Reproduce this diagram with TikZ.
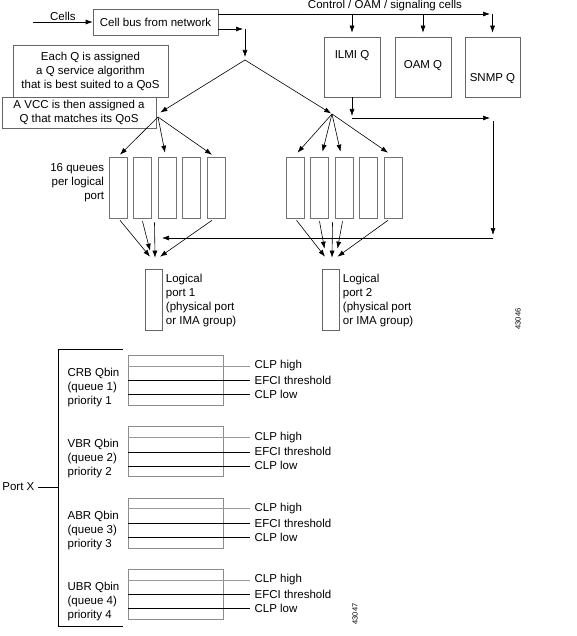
\documentclass[tikz,border=0pt]{standalone}
\usepackage{fontspec}
\setmainfont{Liberation Sans}
\usetikzlibrary{arrows.meta,calc}

\begin{document}
\begin{tikzpicture}[x=1pt,y=-1pt,line width=0.6pt,
    >={Latex[length=7pt,width=5pt]},
    every node/.style={font=\fontsize{11.5}{14}\selectfont},
    box/.style={draw=black!60,inner sep=0pt},
    qrect/.style={draw=black!55,minimum width=18pt,minimum height=61pt,inner sep=0pt},
    qbin/.style={draw=black!45,minimum width=95pt,minimum height=50pt,inner sep=0pt},
    figno/.style={font=\fontsize{7.5}{8}\selectfont,rotate=90}]
\useasboundingbox (0,0) rectangle (576,636);

% cell bus and control cells
\node[box,minimum width=125pt,minimum height=26pt] (bus) at (155.5,22) {Cell bus from network};
\coordinate (cells) at (33,22);
\draw[->] (cells) -- (bus.west) node[midway,above,yshift=-2pt] (cellstxt) {Cells};
\coordinate (ctrl) at (490,14);
\draw[->] (bus.east |- ctrl) -- (ctrl);
\node (ctrltxt) at (385,6) {Control / OAM / signaling cells};

% control queues
\node[box,minimum width=56pt,minimum height=60pt] (ilmi) at (352,67) {};
\node[box,minimum width=56pt,minimum height=60pt] (oam) at (423,67) {};
\node[box,minimum width=55pt,minimum height=60pt] (snmp) at (492.5,67) {};
\node (ilmitxt) at (352,56) {ILMI Q};
\node (oamtxt) at (423,66) {OAM Q};
\node (snmptxt) at (492.5,79) {SNMP Q};
\foreach \q in {ilmi,oam,snmp}
    \draw[->,shorten >=4pt] (\q.north |- ctrl) -- (\q.north);

% split to the two logical ports
\coordinate (bustap) at (243,29);
\coordinate (split) at (245,60);
\draw[->] (bus.east |- bustap) -- (bustap);
\draw[->,shorten >=3pt] (split |- bustap) -- (split);

% notes
\node[box,minimum width=155pt,minimum height=52pt,align=center] (eachq) at (90.5,71)
    {Each Q is assigned\\a Q service algorithm\\that is best suited to a QoS};
\node[box,fill=white,minimum width=154pt,minimum height=31pt,align=center] (vcc) at (79,112.5)
    {A VCC is then assigned a\\Q that matches its QoS};

\coordinate (lhub) at (158,117);
\coordinate (rhub) at (332,114);
\draw[->] (split) -- ([xshift=4pt]vcc.east);
\draw[->,shorten >=1pt] (split) -- (rhub);

% 16 queues per port
\foreach \i in {1,...,5} {
    \node[qrect] (lq\i) at ({118+24.5*(\i-1)},187.5) {};
    \node[qrect] (rq\i) at ({295+24.5*(\i-1)},187.5) {};
}
\node[anchor=east,align=right] (lqtxt) at ($(lq1.west)+(-1,-5)$) {16 queues\\per logical\\port};

% fan out
\draw[->] (lhub) -- ($(lq1.north)+(2,-2)$);
\draw[->] (lhub) -- ($(lq3.north)+(-2,-4)$);
\draw[->] (lhub) -- ($(lq5.north)+(-4,-2)$);
\draw[->] (rhub) -- ($(rq1.north)+(2.5,-4)$);
\draw[->] (rhub) -- ($(rq2.north)+(3,-5)$);
\draw[->] (rhub) -- ($(rq3.north)+(-3.5,-5)$);
\draw[->] (rhub) -- ($(rq5.north)+(-5,-4)$);

% logical ports
\node[box,minimum width=17pt,minimum height=61pt] (lport) at (153.5,299.5) {};
\node[box,minimum width=17pt,minimum height=61pt] (rport) at (330.5,299.5) {};
\node[anchor=west,align=left] (lporttxt) at ($(lport.east)+(0,1.5)$)
    {Logical\\port 1\\(physical port\\or IMA group)};
\node[anchor=west,align=left] (rporttxt) at ($(rport.east)+(0,1.5)$)
    {Logical\\port 2\\(physical port\\or IMA group)};

% fan in
\draw[->] ($(lq1.south)+(2,2)$) -- ($(lport.north)+(-3.5,-12)$);
\draw[->] ($(lq2.south)+(0,3)$) -- ($(lport.north)+(-3.5,-18)$);
\draw[->] ($(lq2.south)+(12,4)$) -- ($(lport.north)+(1.5,-11)$);
\draw[->] ($(lq5.south)+(-4,2)$) -- ($(lport.north)+(6.5,-12)$);
\draw[->] ($(rq1.south)+(1.5,2)$) -- ($(rport.north)+(-5.5,-12)$);
\draw[->] ($(rq2.south)+(0,3)$) -- ($(rport.north)+(-6,-20)$);
\draw[->] ($(rq2.south)+(13,4)$) -- ($(rport.north)+(1.5,-11)$);
\draw[->] ($(rq3.south)+(-1.5,3)$) -- ($(rport.north)+(7,-20)$);
\draw[->] ($(rq5.south)+(-5,2)$) -- ($(rport.north)+(7,-12)$);

% control cells return path
\coordinate (ret) at (493,118);
\coordinate (retdown) at (493,235);
\coordinate (retleft) at (162,238);
\draw[->,shorten >=2pt] (ilmi.south) -- (ilmi.south |- ret);
\draw[->,shorten >=3pt] (ilmi.south |- ret) -- (ret);
\draw[->] ([yshift=-3pt]ret) -- (retdown);
\draw[->] (retdown |- retleft) -- (retleft);

\node[figno] (fig1) at (518,319) {43046};

% Qbins of port X
\node[anchor=east] (portx) at (38,487) {Port X};
\coordinate (bracket) at (58,487);
\coordinate (brtop) at (123,349);
\coordinate (brbot) at (123,626);
\draw (portx.east) -- (bracket);
\draw (brtop) -| (bracket);
\draw (brbot) -| (bracket);

\foreach \n [count=\i] in {CRB,VBR,ABR,UBR} {
    \pgfmathsetmacro\qtop{355+71.33*(\i-1)}
    \node[qbin,anchor=north west] (qbin\i) at (128,\qtop) {};
    \node[anchor=west,align=left] (qbintxt\i) at (64,\qtop+32.5)
        {\n\ Qbin\\(queue \i)\\priority \i};
    \draw[black!40] ($(qbin\i.north west)+(0,11)$) -- ++(122,0)
        node[anchor=west,black,xshift=1pt] (high\i) {CLP high};
    \draw ($(qbin\i.north west)+(0,25.5)$) -- ++(122,0)
        node[anchor=west,xshift=1pt] (efci\i) {EFCI threshold};
    \draw ($(qbin\i.north west)+(0,39.5)$) -- ++(122,0)
        node[anchor=west,xshift=1pt] (low\i) {CLP low};
}

\node[figno] (fig2) at (355,614) {43047};
\end{tikzpicture}
\end{document}
